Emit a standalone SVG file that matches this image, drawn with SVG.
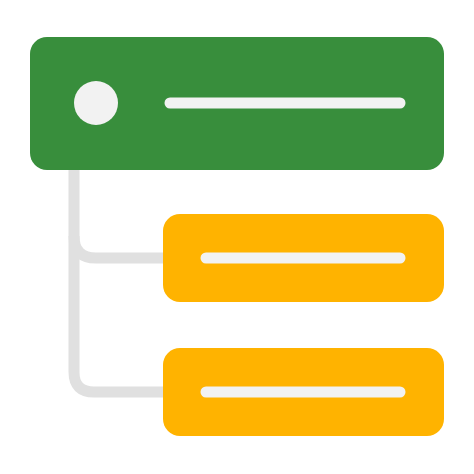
<svg xmlns="http://www.w3.org/2000/svg" width="474" height="474" viewBox="0 0 474 474">
<style>
.conn{fill:none;stroke:#e0e0e0;stroke-width:11;stroke-linecap:butt}
.bar{stroke:#f2f2f2;stroke-width:11;stroke-linecap:round}
.orange{fill:#ffb300}
</style>
<rect width="474" height="474" fill="#ffffff"/>
<g id="connectors">
<path class="conn" d="M74 168 V372 Q74 392 94 392 H166"/>
<path class="conn" d="M74 236 Q74 258 96 258 H166"/>
</g>
<g id="root">
<rect x="30" y="37" width="414" height="133" rx="17" fill="#388e3c"/>
<circle cx="96" cy="103" r="22" fill="#f2f2f2"/>
<line class="bar" x1="170" y1="103" x2="400" y2="103"/>
</g>
<g id="child1">
<rect class="orange" x="163" y="214" width="281" height="88" rx="17"/>
<line class="bar" x1="206" y1="258" x2="400" y2="258"/>
</g>
<g id="child2">
<rect class="orange" x="163" y="348" width="281" height="88" rx="17"/>
<line class="bar" x1="206" y1="392" x2="400" y2="392"/>
</g>
</svg>
